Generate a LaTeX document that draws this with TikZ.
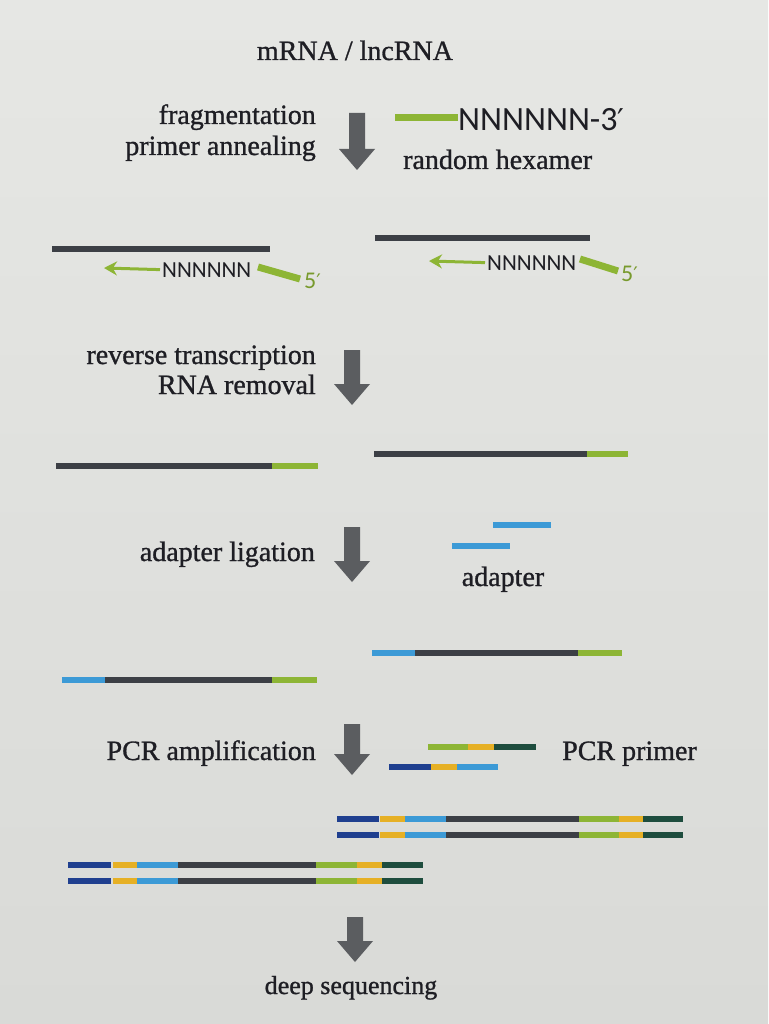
\documentclass[tikz,border=0pt]{standalone}
\usepackage{fontspec}
\setmainfont{Liberation Serif}[FakeBold=1.0]
\newfontfamily\nfont{Carlito}
\newfontfamily\primefont{DejaVu Sans}
\usetikzlibrary{arrows.meta}
\definecolor{bgtop}{HTML}{E6E7E4}
\definecolor{bgbot}{HTML}{D9DAD7}
\definecolor{txt}{HTML}{1E1E24}
\definecolor{dna}{HTML}{3C3F45}
\definecolor{gr}{HTML}{8DB535}
\definecolor{lb}{HTML}{3C9AD6}
\definecolor{db}{HTML}{1F3F8F}
\definecolor{ye}{HTML}{E6B025}
\definecolor{dg}{HTML}{1E4D3E}
\definecolor{agray}{HTML}{5B5D60}
\begin{document}
\begin{tikzpicture}[x=1pt,y=-1pt,
  lbl/.style={font=\fontsize{28}{32}\selectfont, inner sep=0pt, text=txt},
  nbig/.style={font=\nfont\fontsize{34}{36}\selectfont, inner sep=0pt, text=txt},
  nsmall/.style={font=\nfont\fontsize{23}{25}\selectfont, inner sep=0pt, text=txt},
  fivep/.style={font=\nfont\fontsize{24}{26}\selectfont, inner sep=0pt, text=gr!85!black},
  strand/.style={line width=6pt, line cap=butt},
  gbar/.style={line width=7pt, gr, line cap=butt},
  garrow/.style={line width=3pt, gr, -{Stealth[length=13pt,width=14pt]}},
  blockarr/.pic={\fill[agray] (-8,0) -- (8,0) -- (8,#1-21) -- (18,#1-21) -- (0,#1) -- (-18,#1-21) -- (-8,#1-21) -- cycle;}
]
\fill[top color=bgtop, bottom color=bgbot] (0,0) rectangle (768,1024);
\useasboundingbox (0,0) rectangle (768,1024);

% title and step 1
\node[lbl, anchor=base] (title) at (355,60) {mRNA / lncRNA};
\node[lbl, anchor=base east] (frag) at (316,124) {fragmentation};
\node[lbl, anchor=base east] (prim) at (316,155) {primer annealing};
\pic at (357,113) {blockarr=57};
\draw[gbar] (395,118) -- (458,118);
\node[nbig, anchor=base west] (n3) at (458,131) {NNNNNN-3{\primefont\fontsize{30}{32}\selectfont ′}};
\node[lbl, anchor=base west] (rh) at (403,169) {random hexamer};

% annealed strands
\draw[strand, dna] (52,249) -- (270,249);
\node[nsmall, anchor=base west] (nl) at (162,277) {NNNNNN};
\coordinate (al) at (104,268);
\draw[garrow] ([xshift=-2pt]nl.west) -- (al);
\draw[gbar] (258,267) -- (300,279);
\node[fivep, anchor=base west] (fl) at (304,288) {5{\primefont\fontsize{20}{22}\selectfont ′}};

\draw[strand, dna] (375,238) -- (590,238);
\node[nsmall, anchor=base west] (nr) at (487,270) {NNNNNN};
\coordinate (ar) at (429,261);
\draw[garrow] ([xshift=-2pt]nr.west) -- (ar);
\draw[gbar] (580,259) -- (618,271);
\node[fivep, anchor=base west] (fr) at (621,281) {5{\primefont\fontsize{20}{22}\selectfont ′}};

% step 2
\node[lbl, anchor=base east] (rt) at (316,364) {reverse transcription};
\node[lbl, anchor=base east] (rr) at (316,394) {RNA removal};
\pic at (352,350) {blockarr=55};
\draw[strand, dna] (56,466) -- (272,466);
\draw[strand, gr] (272,466) -- (318,466);
\draw[strand, dna] (374,454) -- (587,454);
\draw[strand, gr] (587,454) -- (628,454);

% step 3
\node[lbl, anchor=base east] (al2) at (315,561) {adapter ligation};
\pic at (352,527) {blockarr=55};
\draw[strand, lb] (493,525) -- (551,525);
\draw[strand, lb] (452,546) -- (510,546);
\node[lbl, anchor=base] (ad) at (503,586) {adapter};
\draw[strand, lb] (372,653) -- (415,653);
\draw[strand, dna] (415,653) -- (578,653);
\draw[strand, gr] (578,653) -- (622,653);
\draw[strand, lb] (62,680) -- (105,680);
\draw[strand, dna] (105,680) -- (272,680);
\draw[strand, gr] (272,680) -- (317,680);

% step 4
\node[lbl, anchor=base east] (pa) at (316,760) {PCR amplification};
\pic at (352,724) {blockarr=51};
\draw[strand, gr] (428,747) -- (468,747);
\draw[strand, ye] (468,747) -- (494,747);
\draw[strand, dg] (494,747) -- (536,747);
\draw[strand, db] (389,767) -- (431,767);
\draw[strand, ye] (431,767) -- (457,767);
\draw[strand, lb] (457,767) -- (498,767);
\node[lbl, anchor=base west] (pp) at (562,760) {PCR primer};

% amplified duplexes
\foreach \yy in {819,835}{
  \draw[strand, db] (337,\yy) -- (379,\yy);
  \draw[strand, ye] (380,\yy) -- (405,\yy);
  \draw[strand, lb] (405,\yy) -- (446,\yy);
  \draw[strand, dna] (446,\yy) -- (579,\yy);
  \draw[strand, gr] (579,\yy) -- (619,\yy);
  \draw[strand, ye] (619,\yy) -- (643,\yy);
  \draw[strand, dg] (643,\yy) -- (683,\yy);
}
\foreach \yy in {865,881}{
  \draw[strand, db] (68,\yy) -- (111,\yy);
  \draw[strand, ye] (113,\yy) -- (137,\yy);
  \draw[strand, lb] (137,\yy) -- (178,\yy);
  \draw[strand, dna] (178,\yy) -- (316,\yy);
  \draw[strand, gr] (316,\yy) -- (357,\yy);
  \draw[strand, ye] (357,\yy) -- (382,\yy);
  \draw[strand, dg] (382,\yy) -- (423,\yy);
}

% step 5
\pic at (355,917) {blockarr=45};
\node[lbl, anchor=base, font=\fontsize{26}{30}\selectfont] (ds) at (351,994) {deep sequencing};
\end{tikzpicture}
\end{document}
